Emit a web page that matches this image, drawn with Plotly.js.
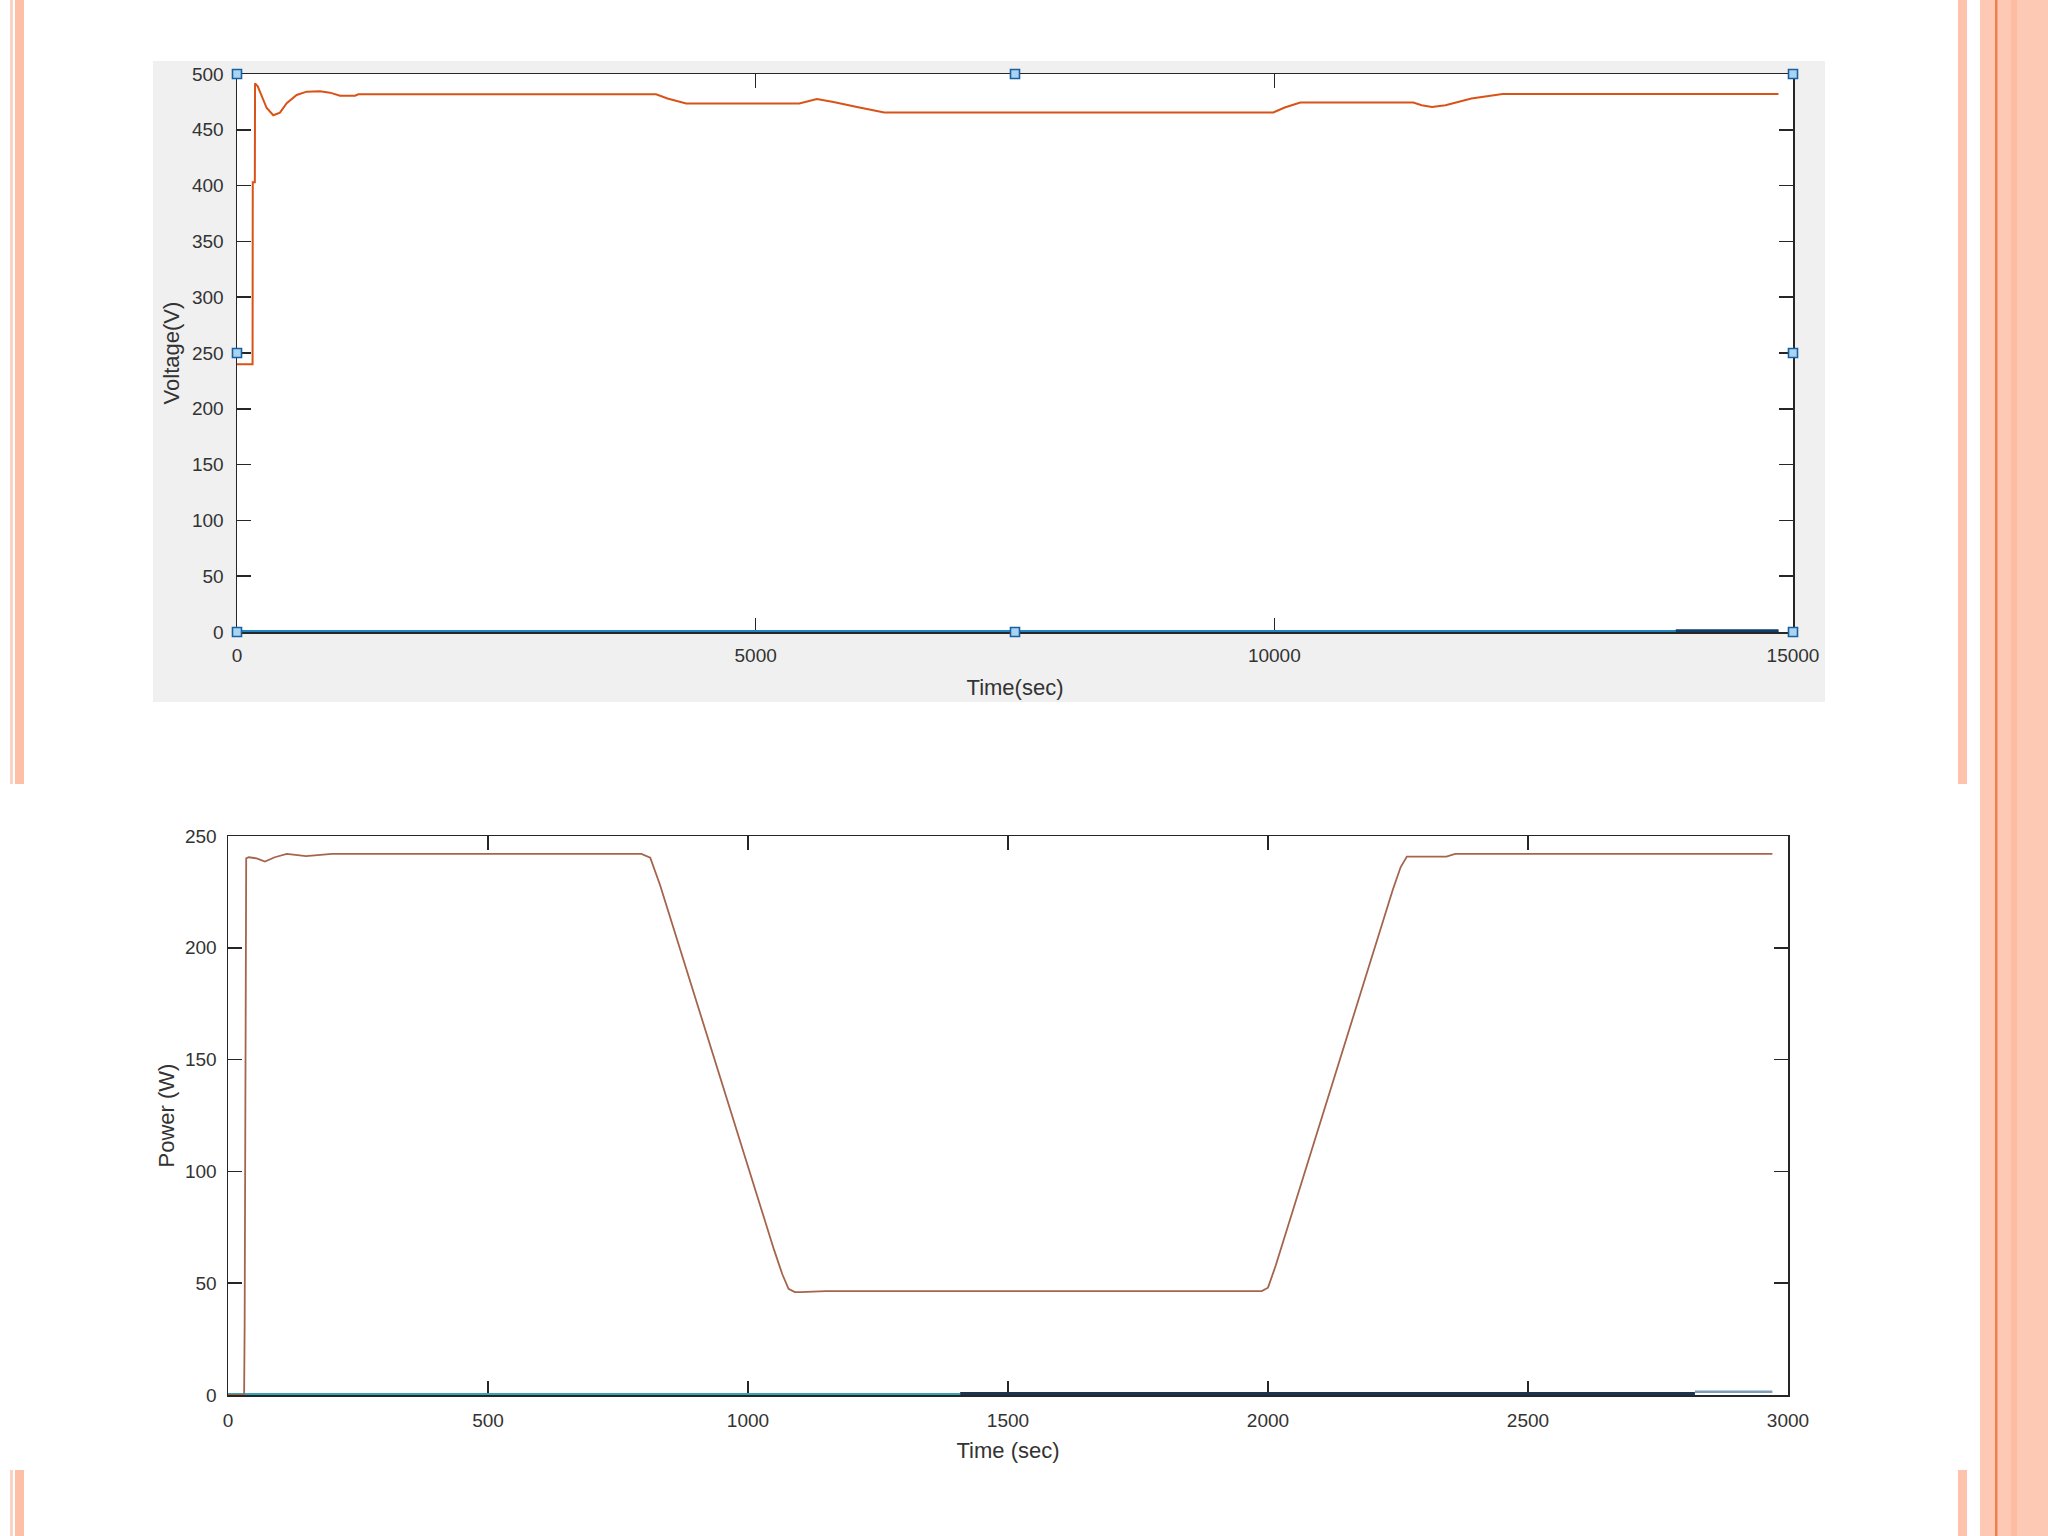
<!DOCTYPE html>
<html>
<head>
<meta charset="utf-8">
<script src="https://cdn.plot.ly/plotly-3.0.1.min.js"></script>
<style>
html,body{margin:0;padding:0;background:#ffffff;}
#chart{width:2048px;height:1536px;}
</style>
</head>
<body>
<div id="chart"></div>
<script>
// ---------- Data: top chart (Voltage vs Time) ----------
var voltTime = [0, 150, 152, 172, 174, 200, 222, 286, 350, 414, 479, 575, 672, 800, 896, 993, 1138, 1170,
                4040, 4150, 4330, 5420, 5590, 5750, 6000, 6240, 9990, 10100, 10250, 11340, 11420, 11520, 11650, 11900, 12200, 14860];
var voltValue = [240, 240, 403, 403, 491.6, 489, 484, 469.5, 463, 465.4, 473.8, 481.2, 484.2, 484.5, 483.3, 480.6, 480.6, 481.8,
                 481.8, 478, 473.5, 473.5, 477.5, 475, 470, 465.5, 465.5, 470, 474.5, 474.5, 472, 470.5, 472, 478, 482, 482];
var voltBaseTime = [0, 14860];
var voltBaseValue = [0, 0];
var voltDarkTime = [13870, 14860];
var voltDarkValue = [0.6, 0.6];
var handleTime = [0, 7500, 15000, 0, 15000, 0, 7500, 15000];
var handleValue = [500, 500, 500, 250, 250, 0, 0, 0];
var voltXTicks = [0, 5000, 10000, 15000];
var voltYTicks = [0, 50, 100, 150, 200, 250, 300, 350, 400, 450, 500];

// ---------- Data: bottom chart (Power vs Time) ----------
var powTime = [0, 31, 32, 35, 40, 55, 71, 90, 113, 150, 200, 795, 812, 831, 1050, 1066, 1078, 1090, 1100, 1150,
               1988, 2000, 2015, 2240, 2255, 2267, 2343, 2360, 2970];
var powValue = [0, 0, 31, 240, 240.5, 240, 238.6, 240.5, 242, 241, 242, 242, 240.3, 228, 65, 54, 47.5, 46, 46, 46.5,
                46.5, 48, 58, 226, 236, 240.8, 240.8, 242, 242];
var powBaseTime = [0, 1408];
var powBaseValue = [0, 0];
var powDarkTime = [1408, 2821];
var powDarkValue = [0.4, 0.4];
var powEndTime = [2821, 2970];
var powEndValue = [1.5, 1.5];
var powXTicks = [0, 500, 1000, 1500, 2000, 2500, 3000];
var powYTicks = [0, 50, 100, 150, 200, 250];

// ---------- Layout helpers ----------
var W = 2048, H = 1536;
function px(x){ return x / W; }
function py(y){ return 1 - y / H; }
var FONT = 'Arial, "Liberation Sans", Helvetica, sans-serif';
var TXT = '#333333';
var AX = '#262626';

function rect(x0, y0, x1, y1, color){
  return {type:'rect', xref:'paper', yref:'paper', x0:px(x0), x1:px(x1), y0:py(y1), y1:py(y0),
          fillcolor:color, line:{width:0}, layer:'below'};
}

var shapes = [
  // gray figure area of the top chart
  rect(153, 61, 1825, 702, '#f0f0f0'),
  rect(237, 74, 1793, 632, '#ffffff'),
  // left decorative strips
  rect(10, 0, 13, 784, '#fad3c4'),
  rect(15, 0, 24, 784, '#fdbfa6'),
  rect(10, 1470, 13, 1536, '#fad3c4'),
  rect(15, 1470, 24, 1536, '#fdbfa6'),
  // right decorative strips
  rect(1958, 0, 1967, 784, '#fdc3ac'),
  rect(1958, 1470, 1967, 1536, '#fdc3ac'),
  rect(1980, 0, 2048, 1536, '#fdc9b5'),
  rect(2011, 0, 2017, 1536, '#fbbca2'),
  rect(1995, 0, 1997.5, 1536, '#ee7f4f')
];

function axisCommon(){
  return {
    showline:true, linecolor:AX, linewidth:1.5, mirror:'ticks', layer:'below traces',
    ticks:'inside', ticklen:14, tickwidth:1.5, tickcolor:AX,
    showgrid:false, zeroline:false, automargin:false, fixedrange:true,
    tickfont:{family:FONT, size:19, color:TXT}
  };
}

var xa1 = Object.assign(axisCommon(), {
  domain:[px(237), px(1793)], anchor:'y', range:[0, 15000],
  tickmode:'array', tickvals:voltXTicks, ticktext:voltXTicks.map(String),
  ticklabelstandoff:6,
  title:{text:'Time(sec)', font:{family:FONT, size:22, color:TXT}, standoff:14}
});
var ya1 = Object.assign(axisCommon(), {
  domain:[py(632), py(74)], anchor:'x', range:[0, 500],
  tickmode:'array', tickvals:voltYTicks, ticktext:voltYTicks.map(String),
  ticklabelstandoff:8,
  title:{text:'Voltage(V)', font:{family:FONT, size:22, color:TXT}, standoff:6}
});
var xa2 = Object.assign(axisCommon(), {
  domain:[px(228), px(1788)], anchor:'y2', range:[0, 3000],
  tickmode:'array', tickvals:powXTicks, ticktext:powXTicks.map(String),
  ticklabelstandoff:8,
  title:{text:'Time (sec)', font:{family:FONT, size:22, color:TXT}, standoff:12}
});
var ya2 = Object.assign(axisCommon(), {
  domain:[py(1395), py(836)], anchor:'x2', range:[0, 250],
  tickmode:'array', tickvals:powYTicks, ticktext:powYTicks.map(String),
  ticklabelstandoff:6,
  title:{text:'Power (W)', font:{family:FONT, size:22, color:TXT}, standoff:4}
});

var traces = [
  {x:voltBaseTime, y:voltBaseValue, xaxis:'x', yaxis:'y', mode:'lines',
   line:{color:'#1f86c4', width:4}, hoverinfo:'skip'},
  {x:voltDarkTime, y:voltDarkValue, xaxis:'x', yaxis:'y', mode:'lines',
   line:{color:'#0d3f6e', width:4}, hoverinfo:'skip'},
  {x:voltTime, y:voltValue, xaxis:'x', yaxis:'y', mode:'lines',
   line:{color:'#d95319', width:2}, hoverinfo:'skip'},
  {x:handleTime, y:handleValue, xaxis:'x', yaxis:'y', mode:'markers',
   marker:{symbol:'square', size:9, color:'#a8d4f2', line:{color:'#1a5fa0', width:1.6}},
   hoverinfo:'skip', cliponaxis:false},
  {x:powBaseTime, y:powBaseValue, xaxis:'x2', yaxis:'y2', mode:'lines',
   line:{color:'#3aa3b8', width:4}, hoverinfo:'skip'},
  {x:powDarkTime, y:powDarkValue, xaxis:'x2', yaxis:'y2', mode:'lines',
   line:{color:'#1b3550', width:4}, hoverinfo:'skip'},
  {x:powEndTime, y:powEndValue, xaxis:'x2', yaxis:'y2', mode:'lines',
   line:{color:'#7f9db6', width:2.5}, hoverinfo:'skip'},
  {x:powTime, y:powValue, xaxis:'x2', yaxis:'y2', mode:'lines',
   line:{color:'#a5654c', width:1.8}, hoverinfo:'skip'}
];

var layout = {
  width:W, height:H, autosize:false,
  margin:{l:0, r:0, t:0, b:0, pad:0},
  paper_bgcolor:'#ffffff', plot_bgcolor:'#ffffff',
  showlegend:false,
  font:{family:FONT, color:TXT},
  xaxis:xa1, yaxis:ya1, xaxis2:xa2, yaxis2:ya2,
  shapes:shapes
};

Plotly.newPlot('chart', traces, layout, {staticPlot:true, displayModeBar:false});
</script>
</body>
</html>
